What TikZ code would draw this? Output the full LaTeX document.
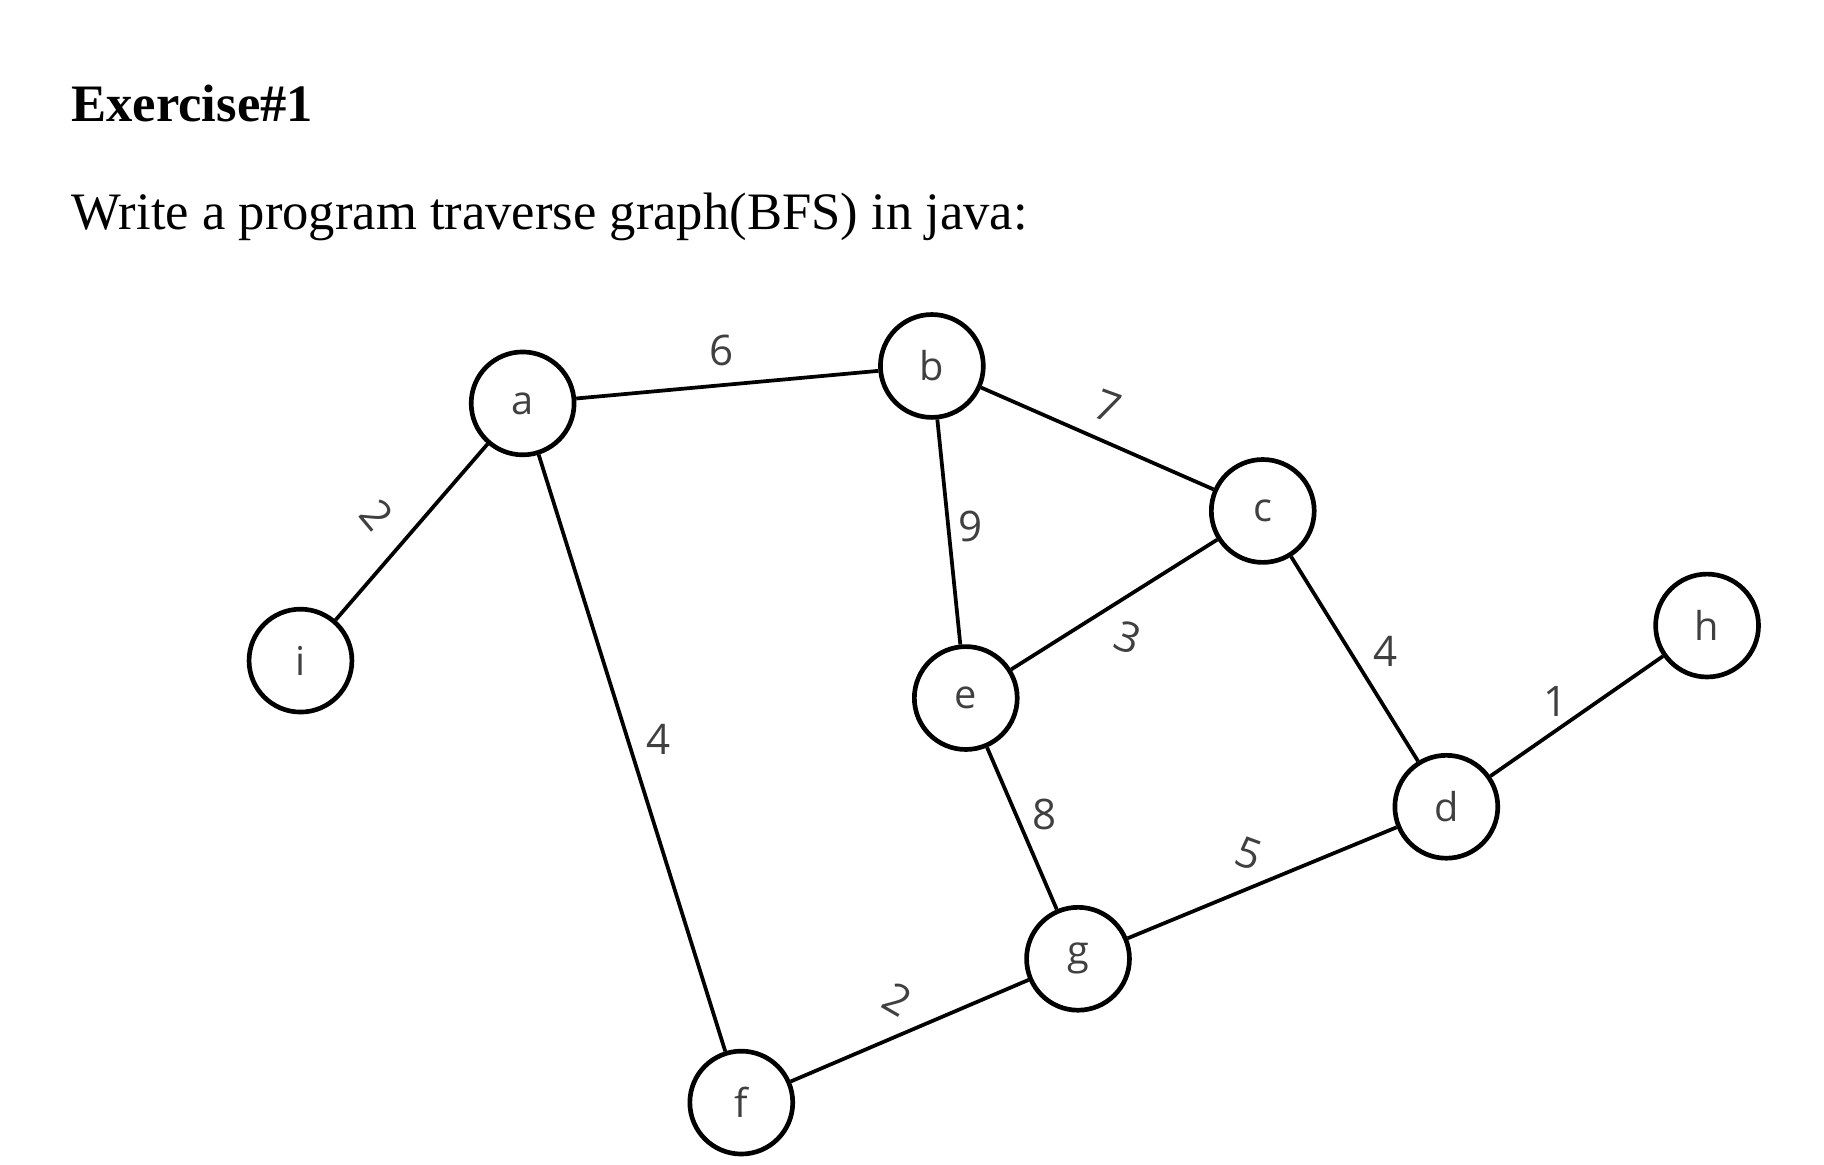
\documentclass[tikz,border=0pt]{standalone}
\usepackage{fontspec}
\setmainfont{Liberation Serif}
\newfontfamily\lblfont{Open Sans}
\begin{document}
\begin{tikzpicture}[x=0.5pt,y=-0.5pt,
  vtx/.style={circle,draw,line width=2pt,minimum size=44pt,inner sep=0pt,font=\lblfont\fontsize{17}{17}\selectfont,text=black!75},
  edge/.style={line width=1.6pt},
  wt/.style={font=\lblfont\fontsize{18}{18}\selectfont,text=black!75,inner sep=0pt}]
\useasboundingbox (0,0) rectangle (1560,996);
\node[anchor=base west,font=\bfseries\fontsize{22.5}{25}\selectfont] (t1) at (54,104) {Exercise\#1};
\node[anchor=base west,font=\fontsize{22.5}{25}\selectfont] (t2) at (54,196) {Write a program traverse graph(BFS) in java:};
\node[vtx] (a) at (447,345) {a};
\node[vtx] (b) at (797,313) {b};
\node[vtx] (c) at (1080,437) {c};
\node[vtx] (e) at (826,597) {e};
\node[vtx] (i) at (257,565) {i};
\node[vtx] (h) at (1460,535) {h};
\node[vtx] (d) at (1237,690) {d};
\node[vtx] (g) at (922,820) {g};
\node[vtx] (f) at (634,943) {f};
\draw[edge] (a) -- (b);
\draw[edge] (b) -- (c);
\draw[edge] (i) -- (a);
\draw[edge] (b) -- (e);
\draw[edge] (e) -- (c);
\draw[edge] (a) -- (f);
\draw[edge] (c) -- (d);
\draw[edge] (d) -- (h);
\draw[edge] (e) -- (g);
\draw[edge] (g) -- (d);
\draw[edge] (f) -- (g);
\node[wt] (w1) at (617,300) {6};
\node[wt,rotate=-20] (w2) at (948,348) {7};
\node[wt,rotate=-50] (w3) at (322,440) {2};
\node[wt] (w4) at (830,450) {9};
\node[wt,rotate=-20] (w5) at (965,545) {3};
\node[wt] (w6) at (563,632) {4};
\node[wt] (w7) at (1185,557) {4};
\node[wt] (w8) at (1330,600) {1};
\node[wt] (w9) at (893,697) {8};
\node[wt,rotate=-20] (w10) at (1068,730) {5};
\node[wt,rotate=-30] (w11) at (768,855) {2};
\end{tikzpicture}
\end{document}
